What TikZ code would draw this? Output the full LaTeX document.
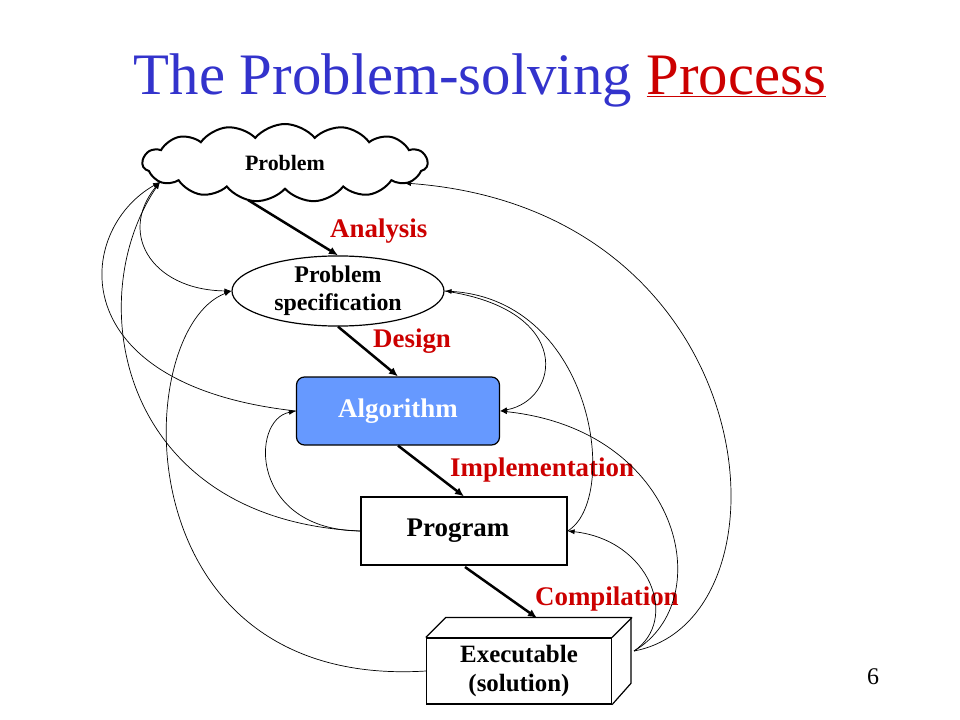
\documentclass[tikz,border=0pt]{standalone}
\usepackage{fontspec}
\setmainfont{Liberation Serif}
\usetikzlibrary{shapes,arrows,arrows.meta}
\definecolor{titleblue}{RGB}{51,51,204}
\definecolor{labelred}{RGB}{204,0,0}
\definecolor{algblue}{RGB}{102,153,255}
\tikzstyle{step line} = [draw, line width=2.5bp, -{Latex[length=9bp,width=8bp]}]
\tikzstyle{back line} = [draw, line width=0.7bp, -{Latex[length=7bp,width=5bp]}]
\tikzstyle{stage} = [font=\fontsize{27}{30}\selectfont\bfseries, text=labelred, anchor=west, inner sep=0pt]
\tikzstyle{box} = [rectangle, draw, line width=1.2bp, font=\fontsize{27}{30}\selectfont\bfseries]
\begin{document}
\begin{tikzpicture}[x=1bp, y=-1bp]
        \useasboundingbox (0,0) rectangle (960,720);
        % Title
        \node (title) at (480,80) {\fontsize{59}{66}\selectfont\color{titleblue}The Problem-solving \textcolor{labelred}{\underline{Process}}};

        % Place nodes
        \node (problem) [cloud, cloud puffs=15, cloud puff arc=100, aspect=3.8, draw, line width=2bp, fill=white,
            minimum width=285bp, minimum height=78bp, font=\fontsize{22}{26}\selectfont\bfseries] at (285,163) {\raisebox{-4bp}{Problem}};
        \node (spec) [ellipse, draw, line width=1.2bp, minimum width=212bp, minimum height=66bp, align=center, inner sep=0pt,
            font=\fontsize{24}{28}\selectfont\bfseries] at (338,291) {Problem\\specification};
        \node (alg) [box, rounded corners=8bp, fill=algblue, text=white, minimum width=203bp, minimum height=68bp] at (398,411) {Algorithm};
        \node (prog) [box, minimum width=206bp, minimum height=68bp] at (464,531) {\hspace{-12bp}\raisebox{6bp}{Program}};
        \node (exe) [box, minimum width=185bp, minimum height=66bp, align=center, inner sep=0pt,
            font=\fontsize{25}{30}\selectfont\bfseries] at (519,671) {Executable\\(solution)};
        \draw[line width=1.2bp] (exe.north west) -- ++(20,-20) -- ++(185,0) -- ++(0,66) -- (exe.south east);
        \draw[line width=1.2bp] (exe.north east) -- ++(20,-20);
        \coordinate (clL) at (160,182);
        \coordinate (clR) at (404,183);
        \coordinate (exeR) at (634,651);
        \node (page) at (873,677) {\fontsize{24}{28}\selectfont 6};

        % Steps
        \path [step line] (248,200) -- (spec.north);
        \node[stage] (analysis) at (330,231) {Analysis};
        \path [step line] (spec.south) -- (alg.north);
        \node[stage] (design) at (373,341) {Design};
        \path [step line] (alg.south) -- (prog.north);
        \node[stage] (impl) at (450,470) {Implementation};
        \path [step line] (465,567) -- (537,618);
        \node[stage] (comp) at (535,599) {Compilation};

        % Feedback
        \path [back line] (clL) .. controls (115,230) and (150,290) .. (spec.west);
        \path [back line] (alg.west) .. controls (60,385) and (75,230) .. (clL);
        \path [back line] (prog.west) .. controls (120,520) and (80,300) .. (clL);
        \path [back line] (exe.west) .. controls (120,690) and (130,330) .. (spec.west);
        \path [back line] (prog.west) .. controls (250,530) and (250,420) .. (alg.west);
        \path [back line] (spec.east) .. controls (575,310) and (560,400) .. (alg.east);
        \path [back line] (prog.east) .. controls (620,500) and (595,300) .. (spec.east);
        \path [back line] (exeR) .. controls (720,600) and (680,430) .. (alg.east);
        \path [back line] (exeR) .. controls (680,620) and (650,540) .. (prog.east);
        \path [back line] (exeR) .. controls (800,620) and (770,210) .. (clR);
\end{tikzpicture}
\end{document}
